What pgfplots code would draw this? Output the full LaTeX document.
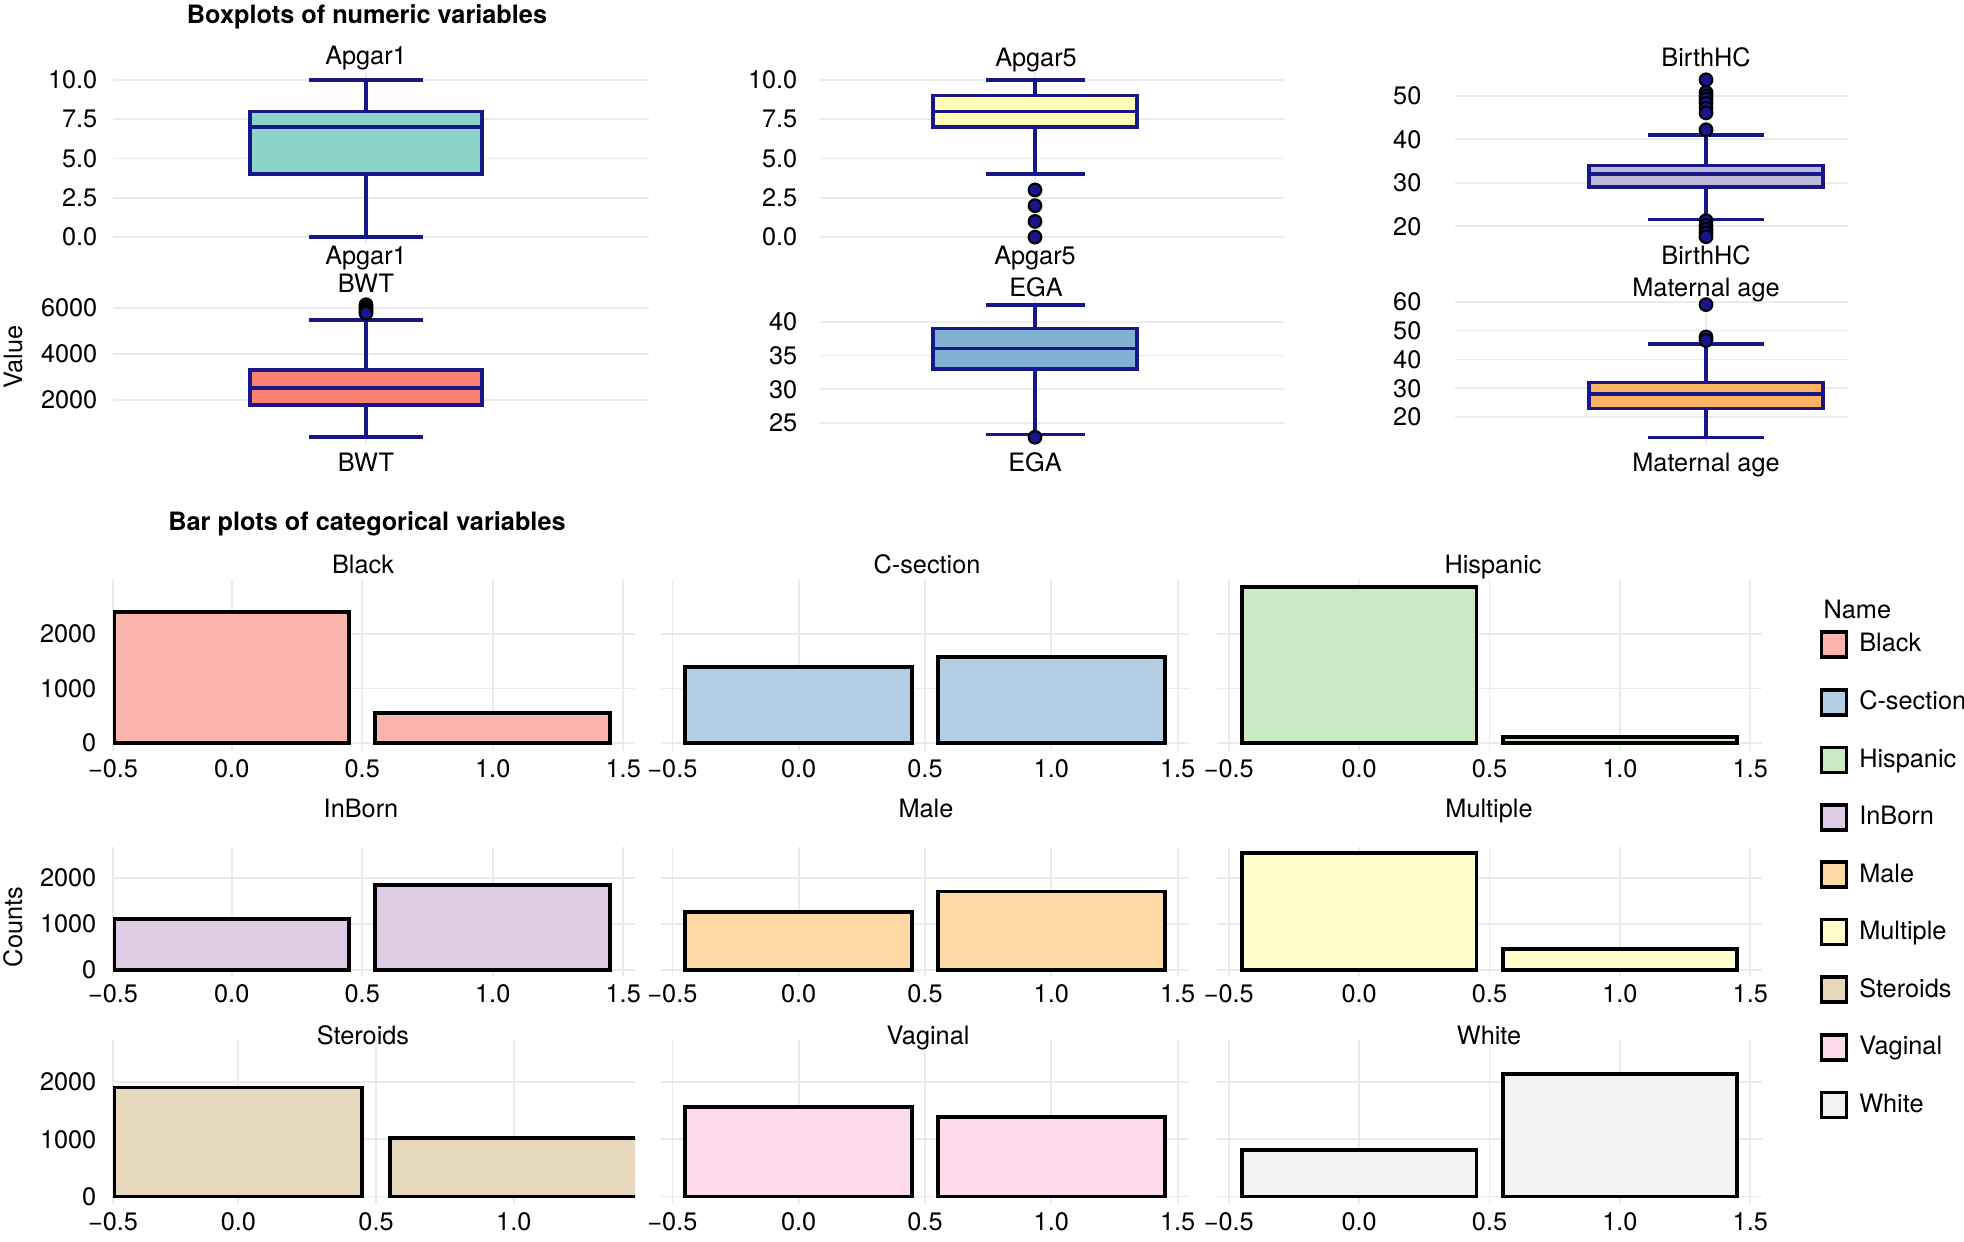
\documentclass[border=0pt]{standalone}
\usepackage{fontspec}
\setmainfont{TeX Gyre Heros}
\usepackage{pgfplots}
\pgfplotsset{compat=1.18}
\usepgfplotslibrary{statistics}

\definecolor{gridc}{HTML}{EBEBEB}
\definecolor{navy}{HTML}{17178A}
% boxplot fills
\definecolor{cApA}{HTML}{8DD3C7}
\definecolor{cApB}{HTML}{FFFFB3}
\definecolor{cHC}{HTML}{BEBADA}
\definecolor{cBWT}{HTML}{FB8072}
\definecolor{cEGA}{HTML}{80B1D3}
\definecolor{cMat}{HTML}{FDB462}
% bar fills
\definecolor{cBlack}{HTML}{FBB4AE}
\definecolor{cCsec}{HTML}{B3CDE3}
\definecolor{cHisp}{HTML}{CCEBC5}
\definecolor{cInB}{HTML}{DECBE4}
\definecolor{cMale}{HTML}{FED9A6}
\definecolor{cMult}{HTML}{FFFFCC}
\definecolor{cSter}{HTML}{E5D8BD}
\definecolor{cVag}{HTML}{FDDAEC}
\definecolor{cWhite}{HTML}{F2F2F2}

\newcommand\fs{\fontsize{7.2pt}{8.6pt}\selectfont}
\newcommand\legkey[1]{\addlegendimage{legend image code/.code={\draw[fill=#1,draw=black,line width=1pt] (0mm,-1.25mm) rectangle (2.5mm,1.25mm);}}}

\pgfplotsset{
  panel/.style={scale only axis, anchor=north west,
    axis line style={draw=none}, major tick length=0pt, tick style={draw=none},
    xmajorgrids, ymajorgrids, major grid style={gridc, line width=0.5pt},
    scaled ticks=false, tick label style={font=\fs},
    /pgf/number format/assume math mode=true,
    /pgf/number format/1000 sep={},
    yticklabel style={anchor=east, inner sep=0pt}},
  boxp/.style={panel, xmin=0, boxplot/draw direction=y,
    xticklabel style={inner sep=0pt, anchor=north}},
  bstyle/.style={draw=navy, line width=1pt, mark=*, mark size=1.8pt,
    mark options={fill=navy, draw=black, line width=0.6pt, solid}},
  barp/.style={panel, xmin=-0.545, xmax=1.545,
    xtick={-0.5,0,0.5,1,1.5}, xticklabels={−0.5,0.0,0.5,1.0,1.5},
    ytick={0,1000,2000}, yticklabels={},
    xticklabel style={inner sep=0pt, anchor=north, yshift=-0.85mm}},
  barl/.style={barp, xmin=-0.455, xtick={-0.455,0,0.5,1,1.5},
    yticklabels={0,1000,2000}, yticklabel style={xshift=-1.6mm}},
  bar/.style={ybar, bar width=0.9, draw=black, line width=1.1pt},
  row1/.style={at={(#1,-57.93mm)}, height=17.15mm, ymin=-143, ymax=3003},
  row2/.style={at={(#1,-84.73mm)}, height=12.85mm, ymin=-127, ymax=2667},
  row3/.style={at={(#1,-104.0mm)}, height=16.35mm, ymin=-122, ymax=2734},
}

\begin{document}
\fs
\begin{tikzpicture}
\path[use as bounding box] (0,0) rectangle (196.4mm,-124.1mm);

% ---------------- boxplots, top row
\begin{axis}[boxp, at={(11.3mm,-7.2mm)}, width=53.6mm, height=17.3mm, xmax=536,
  ymin=-0.5, ymax=10.5, ytick={0,2.5,5,7.5,10}, yticklabels={0.0,2.5,5.0,7.5,10.0},
  xtick={253}, xticklabels={Apgar1}, yticklabel style={xshift=-1.5mm}]
\addplot[bstyle, fill=cApA, boxplot prepared={draw position=253, box extend=232, whisker extend=114,
  lower whisker=0, lower quartile=4, median=7, upper quartile=8, upper whisker=10}] coordinates {};
\end{axis}

\begin{axis}[boxp, at={(82.0mm,-7.2mm)}, width=46.4mm, height=17.3mm, xmax=464,
  ymin=-0.5, ymax=10.5, ytick={0,2.5,5,7.5,10}, yticklabels={0.0,2.5,5.0,7.5,10.0},
  xtick={215}, xticklabels={Apgar5}, yticklabel style={xshift=-2.2mm}]
\addplot[bstyle, fill=cApB, boxplot prepared={draw position=215, box extend=204, whisker extend=99,
  lower whisker=4, lower quartile=7, median=8, upper quartile=9, upper whisker=10}]
  table[row sep=\\, y index=0] {v\\ 3\\ 2\\ 1\\ 0\\};
\end{axis}

\begin{axis}[boxp, at={(145.5mm,-7.2mm)}, width=39.3mm, height=17.3mm, xmax=393,
  ymin=15.7, ymax=55.5, ytick={20,30,40,50},
  xtick={251}, xticklabels={BirthHC}, yticklabel style={xshift=-3.3mm}]
\addplot[bstyle, fill=cHC, boxplot prepared={draw position=251, box extend=234, whisker extend=116,
  lower whisker=21.6, lower quartile=29, median=32, upper quartile=34, upper whisker=41}]
  table[row sep=\\, y index=0] {v\\ 53.7\\ 50.8\\ 50\\ 49.2\\ 48.3\\ 47.2\\ 46.1\\ 42.2\\ 21.3\\ 20.2\\ 19.3\\ 18.5\\ 17.6\\};
\end{axis}

% ---------------- boxplots, second row
\begin{axis}[boxp, at={(11.3mm,-29.8mm)}, width=53.6mm, height=14.6mm, xmax=536,
  ymin=70, ymax=6440, ytick={2000,4000,6000},
  xtick={253}, xticklabels={BWT}, yticklabel style={xshift=-1.5mm},
  xticklabel style={yshift=-0.8mm}]
\addplot[bstyle, fill=cBWT, boxplot prepared={draw position=253, box extend=232, whisker extend=114,
  lower whisker=369, lower quartile=1778, median=2520, upper quartile=3290, upper whisker=5470}]
  table[row sep=\\, y index=0] {v\\ 6147\\ 6050\\ 5950\\ 5860\\ 5778\\};
\end{axis}

\begin{axis}[boxp, at={(82.0mm,-29.8mm)}, width=46.4mm, height=14.6mm, xmax=464,
  ymin=21.9, ymax=43.5, ytick={25,30,35,40},
  xtick={215}, xticklabels={EGA}, yticklabel style={xshift=-2.2mm},
  xticklabel style={yshift=-0.8mm}]
\addplot[bstyle, fill=cEGA, boxplot prepared={draw position=215, box extend=204, whisker extend=99,
  lower whisker=23.3, lower quartile=33, median=36, upper quartile=39, upper whisker=42.5}]
  table[row sep=\\, y index=0] {v\\ 22.9\\};
\end{axis}

\begin{axis}[boxp, at={(145.5mm,-29.8mm)}, width=39.3mm, height=14.6mm, xmax=393,
  ymin=10.7, ymax=61.3, ytick={20,30,40,50,60},
  xtick={251}, xticklabels={Maternal age}, yticklabel style={xshift=-3.3mm},
  xticklabel style={yshift=-0.8mm}]
\addplot[bstyle, fill=cMat, boxplot prepared={draw position=251, box extend=234, whisker extend=116,
  lower whisker=13, lower quartile=23, median=28, upper quartile=32, upper whisker=45.3}]
  table[row sep=\\, y index=0] {v\\ 59\\ 47.8\\ 46.6\\};
\end{axis}

% ---------------- bar plots
\begin{axis}[barl, row1=11.3mm, width=52.2mm]
\addplot[bar, fill=cBlack] coordinates {(0,2410) (1,545)};
\end{axis}
\begin{axis}[barp, row1=66.1mm, width=52.8mm]
\addplot[bar, fill=cCsec] coordinates {(0,1400) (1,1570)};
\end{axis}
\begin{axis}[barp, row1=121.7mm, width=54.5mm,
  legend style={at={(1.1046,0.7290)}, anchor=north west, draw=none, fill=none,
    inner sep=0pt, row sep=2.11mm, font=\fs, cells={anchor=west},
    /tikz/every odd column/.append style={column sep=0.4mm}}]
\addplot[bar, fill=cHisp, forget plot] coordinates {(0,2860) (1,115)};
\legkey{cBlack}\legkey{cCsec}\legkey{cHisp}\legkey{cInB}\legkey{cMale}
\legkey{cMult}\legkey{cSter}\legkey{cVag}\legkey{cWhite}
\legend{Black,C-section,Hispanic,InBorn,Male,Multiple,Steroids,Vaginal,White}
\end{axis}

\begin{axis}[barl, row2=11.3mm, width=52.2mm]
\addplot[bar, fill=cInB] coordinates {(0,1105) (1,1850)};
\end{axis}
\begin{axis}[barp, row2=66.1mm, width=52.8mm]
\addplot[bar, fill=cMale] coordinates {(0,1270) (1,1705)};
\end{axis}
\begin{axis}[barp, row2=121.7mm, width=54.5mm]
\addplot[bar, fill=cMult] coordinates {(0,2540) (1,450)};
\end{axis}

\begin{axis}[barl, row3=11.3mm, width=52.2mm, xmax=1.44,
  xtick={-0.455,0,0.5,1}, xticklabels={−0.5,0.0,0.5,1.0}]
\addplot[bar, fill=cSter] coordinates {(0,1905) (1,1030)};
\end{axis}
\begin{axis}[barp, row3=66.1mm, width=52.8mm]
\addplot[bar, fill=cVag] coordinates {(0,1560) (1,1385)};
\end{axis}
\begin{axis}[barp, row3=121.7mm, width=54.5mm]
\addplot[bar, fill=cWhite] coordinates {(0,812) (1,2140)};
\end{axis}

% ---------------- titles and labels
\node[anchor=base, font=\fs\bfseries] at (36.7mm,-2.3mm) {Boxplots of numeric variables};
\node[anchor=base, font=\fs\bfseries] at (36.7mm,-53.0mm) {Bar plots of categorical variables};

\node[anchor=base, font=\fs] at (36.6mm,-6.5mm) {Apgar1};
\node[anchor=base, font=\fs] at (103.6mm,-6.6mm) {Apgar5};
\node[anchor=base, font=\fs] at (170.6mm,-6.6mm) {BirthHC};
\node[anchor=base, font=\fs] at (36.6mm,-29.2mm) {BWT};
\node[anchor=base, font=\fs] at (103.6mm,-29.6mm) {EGA};
\node[anchor=base, font=\fs] at (170.6mm,-29.6mm) {Maternal age};

\node[anchor=base, font=\fs] at (36.3mm,-57.3mm) {Black};
\node[anchor=base, font=\fs] at (92.7mm,-57.3mm) {C-section};
\node[anchor=base, font=\fs] at (149.3mm,-57.3mm) {Hispanic};
\node[anchor=base, font=\fs] at (36.1mm,-81.7mm) {InBorn};
\node[anchor=base, font=\fs] at (92.6mm,-81.7mm) {Male};
\node[anchor=base, font=\fs] at (148.9mm,-81.7mm) {Multiple};
\node[anchor=base, font=\fs] at (36.3mm,-104.4mm) {Steroids};
\node[anchor=base, font=\fs] at (92.8mm,-104.4mm) {Vaginal};
\node[anchor=base, font=\fs] at (148.9mm,-104.4mm) {White};

\node[rotate=90, font=\fs] at (1.3mm,-35.7mm) {Value};
\node[rotate=90, font=\fs] at (1.3mm,-92.7mm) {Counts};
\node[anchor=base west, inner sep=0pt, font=\fs] at (182.3mm,-61.8mm) {Name};
\end{tikzpicture}
\end{document}
